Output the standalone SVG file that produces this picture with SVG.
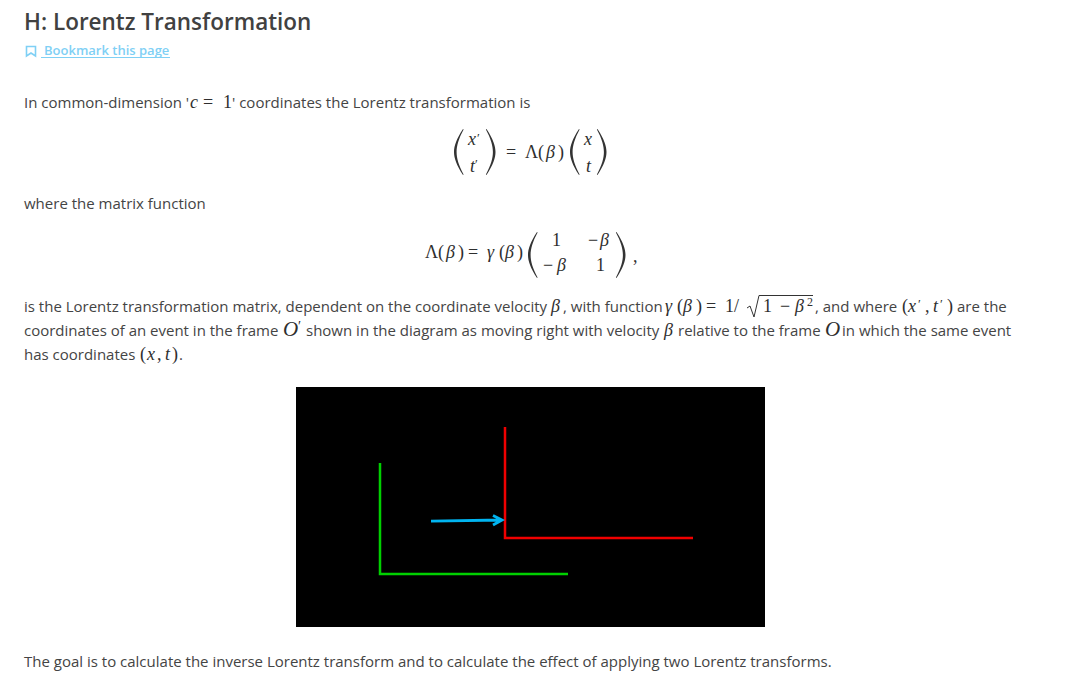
<svg xmlns="http://www.w3.org/2000/svg" width="1072" height="684" viewBox="0 0 1072 684">
<style>
text{font-family:"Open Sans",sans-serif;fill:#444;font-size:15px}
.h{font-size:22.500px;font-weight:600;fill:#414141}
.b{font-size:13px;font-weight:600;fill:#7fd0f5}
.m{font-family:"Liberation Serif",serif;font-size:18px;fill:#2e2e2e}
.i{font-family:"Liberation Serif",serif;font-style:italic;font-size:18px;fill:#2e2e2e}
.o{font-family:"Liberation Serif",serif;font-style:italic;font-size:21px;fill:#2e2e2e}
.p{fill:#333}
</style>
<defs>
<path id="lp" d="M9 0C2.500 10 0 17 0 23C0 29 2.500 36 9 46L9.600 45.400C4.500 36 2.600 29 2.600 23C2.600 17 4.500 10 9.600 .6z"/>
</defs>
<rect width="1072" height="684" fill="#fff"/>
<text class="h" x="24" y="30">H: Lorentz Transformation</text>
<g id="bookmark">
<path d="M26.500 46.500h9v9.500l-4.500-3-4.500 3z" fill="none" stroke="#7fd0f5" stroke-width="1.600"/>
<text class="b" x="44" y="55">Bookmark this page</text>
<path d="M41 57.500H170" stroke="#7fd0f5" stroke-width="1"/>
</g>
<text x="24" y="108">In common-dimension '</text>
<text class="i" x="190" y="108">c</text><text class="m" x="203" y="108">=</text><text class="m" x="223" y="108">1</text><text x="232" y="108">' coordinates the Lorentz transformation is</text>
<g id="eq1">
<use href="#lp" class="p" transform="translate(454 129)"/>
<use href="#lp" class="p" transform="translate(495.500 129) scale(-1 1)"/>
<text class="i" x="468" y="145">x</text><text class="m" x="477" y="142" style="font-size:13px">′</text>
<text class="i" x="470" y="172">t</text><text class="m" x="475" y="168" style="font-size:13px">′</text>
<text class="m" x="506" y="158">=</text><text class="m" x="525" y="158">Λ(</text><text class="i" x="546" y="158">β</text><text class="m" x="558" y="158">)</text>
<use href="#lp" class="p" transform="translate(570 129)"/>
<use href="#lp" class="p" transform="translate(606.500 129) scale(-1 1)"/>
<text class="i" x="584" y="145">x</text><text class="i" x="586" y="172">t</text>
</g>
<text x="24" y="209">where the matrix function</text>
<g id="eq2">
<text class="m" x="425" y="258">Λ(</text><text class="i" x="446" y="258">β</text><text class="m" x="458" y="258">)</text><text class="m" x="468" y="258">=</text><text class="i" x="487" y="258">γ</text><text class="m" x="499" y="258">(</text><text class="i" x="505" y="258">β</text><text class="m" x="517" y="258">)</text>
<use href="#lp" class="p" transform="translate(528 232)"/>
<use href="#lp" class="p" transform="translate(625.500 232) scale(-1 1)"/>
<text class="m" x="552" y="246">1</text><text class="m" x="588" y="246">−</text><text class="i" x="600" y="246">β</text>
<text class="m" x="543" y="271">−</text><text class="i" x="557" y="271">β</text><text class="m" x="596" y="271">1</text>
<text class="m" x="633" y="262">,</text>
</g>
<text x="24" y="312">is the Lorentz transformation matrix, dependent on the coordinate velocity</text>
<text class="i" x="551" y="312">β</text><text x="563" y="312">, with function</text>
<text class="i" x="665" y="312">γ</text><text class="m" x="677" y="312">(</text><text class="i" x="683" y="312">β</text><text class="m" x="696" y="312">)</text><text class="m" x="706" y="312">=</text><text class="m" x="725" y="312">1/</text>
<path d="M747 308l3-2 4 11 5-21.500h54" fill="none" stroke="#333" stroke-width="1"/>
<text class="m" x="763" y="312">1</text><text class="m" x="780" y="312">−</text><text class="i" x="795" y="312">β</text><text class="m" x="807" y="306" style="font-size:12px">2</text>
<text x="815" y="312">, and where</text>
<text class="m" x="902" y="312">(</text><text class="i" x="908" y="312">x</text><text class="m" x="918" y="308" style="font-size:13px">′</text><text class="m" x="925" y="312">,</text><text class="i" x="933" y="312">t</text><text class="m" x="940" y="308" style="font-size:13px">′</text><text class="m" x="947" y="312">)</text>
<text x="957" y="312">are the</text>
<text x="24" y="336">coordinates of an event in the frame</text>
<text class="o" x="283" y="336">O</text><text class="m" x="298" y="331" style="font-size:14px">′</text>
<text x="306" y="336">shown in the diagram as moving right with velocity</text>
<text class="i" x="664" y="336">β</text>
<text x="678" y="336">relative to the frame</text>
<text class="o" x="825" y="336">O</text>
<text x="842" y="336">in which the same event</text>
<text x="24" y="360">has coordinates</text>
<text class="m" x="140" y="360">(</text><text class="i" x="147" y="360">x</text><text class="m" x="157" y="360">,</text><text class="i" x="165" y="360">t</text><text class="m" x="172" y="360">)</text><text x="179" y="360">.</text>
<g id="diagram">
<rect x="296" y="387" width="469" height="240" fill="#000"/>
<g id="connectors" fill="none" stroke-width="2.500">
<path d="M380 463V574H568" stroke="#00d000"/>
<path d="M505 427V538H693" stroke="#f00000"/>
<path d="M431 521.200L502 520M493 515.500L502 520L493 525" stroke="#00b4f0" stroke-width="2.800"/>
</g>
</g>
<text x="24" y="667">The goal is to calculate the inverse Lorentz transform and to calculate the effect of applying two Lorentz transforms.</text>
</svg>
